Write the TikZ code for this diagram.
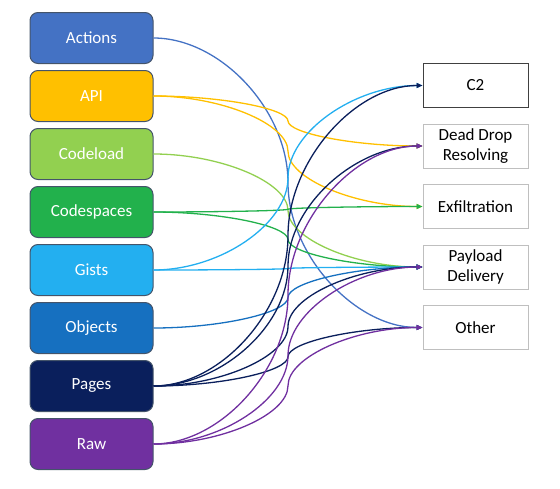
\documentclass[tikz,border=0pt]{standalone}
\usepackage{fontspec}
\setmainfont{Carlito}
\usetikzlibrary{arrows.meta,calc}

\definecolor{actions}{HTML}{4472C4}
\definecolor{api}{HTML}{FFC000}
\definecolor{codeload}{HTML}{92D050}
\definecolor{codespaces}{HTML}{22B14C}
\definecolor{gists}{HTML}{23AFF0}
\definecolor{objects}{HTML}{1670C0}
\definecolor{pages}{HTML}{0A1F5C}
\definecolor{raw}{HTML}{7030A0}
\definecolor{rim}{HTML}{44546A}
\definecolor{pale}{HTML}{BFBFBF}

\tikzset{
  src/.style={draw=rim, line width=1pt, rounded corners=8pt, inner sep=0pt,
    minimum width=123pt, minimum height=51pt, text=white,
    font=\fontsize{17}{20.5}\selectfont},
  kind/.style={draw=pale, line width=1pt, fill=white, inner sep=0pt, align=center,
    minimum width=105pt, minimum height=44pt, font=\fontsize{17}{20.5}\selectfont},
  link/.style={line width=1.3pt, -{Triangle[length=6pt,width=5pt]},
    to path={let \p1=(\tikztostart), \p2=(\tikztotarget) in
      .. controls ({0.75*\x1+0.25*\x2},\y1) and ({0.5*(\x1+\x2)},{0.75*\y1+0.25*\y2})
      .. ({0.5*(\x1+\x2)},{0.5*(\y1+\y2)})
      .. controls ({0.5*(\x1+\x2)},{0.25*\y1+0.75*\y2}) and ({0.25*\x1+0.75*\x2},\y2)
      .. (\tikztotarget)}}
}

\begin{document}
\begin{tikzpicture}[x=1pt, y=-1pt]
  \useasboundingbox (0,0) rectangle (560,488);

  % 左侧来源
  \foreach \n/\t/\y in {actions/Actions/38, api/API/96, codeload/Codeload/154,
      codespaces/Codespaces/212, gists/Gists/270, objects/Objects/328,
      pages/Pages/386, raw/Raw/444}
    \node[src, fill=\n] (\n) at (91.5,\y) {\t};

  % 右侧类别
  \node[kind, draw=black!75] (c2) at (475.5,85.5) {C2};
  \node[kind] (dead) at (475.5,146) {Dead Drop\\Resolving};
  \node[kind] (exfil) at (475.5,206.5) {Exfiltration};
  \node[kind] (payload) at (475.5,267) {Payload\\Delivery};
  \node[kind] (other) at (475.5,327.5) {Other};

  % 连线
  \foreach \a/\b in {actions/other, api/dead, api/exfil, codeload/payload,
      codespaces/exfil, codespaces/payload, gists/c2, gists/payload,
      objects/payload, pages/c2, pages/dead, pages/payload, pages/other,
      raw/dead, raw/payload, raw/other}
    \draw[link, color=\a] (\a.east) to (\b.west);
\end{tikzpicture}
\end{document}
